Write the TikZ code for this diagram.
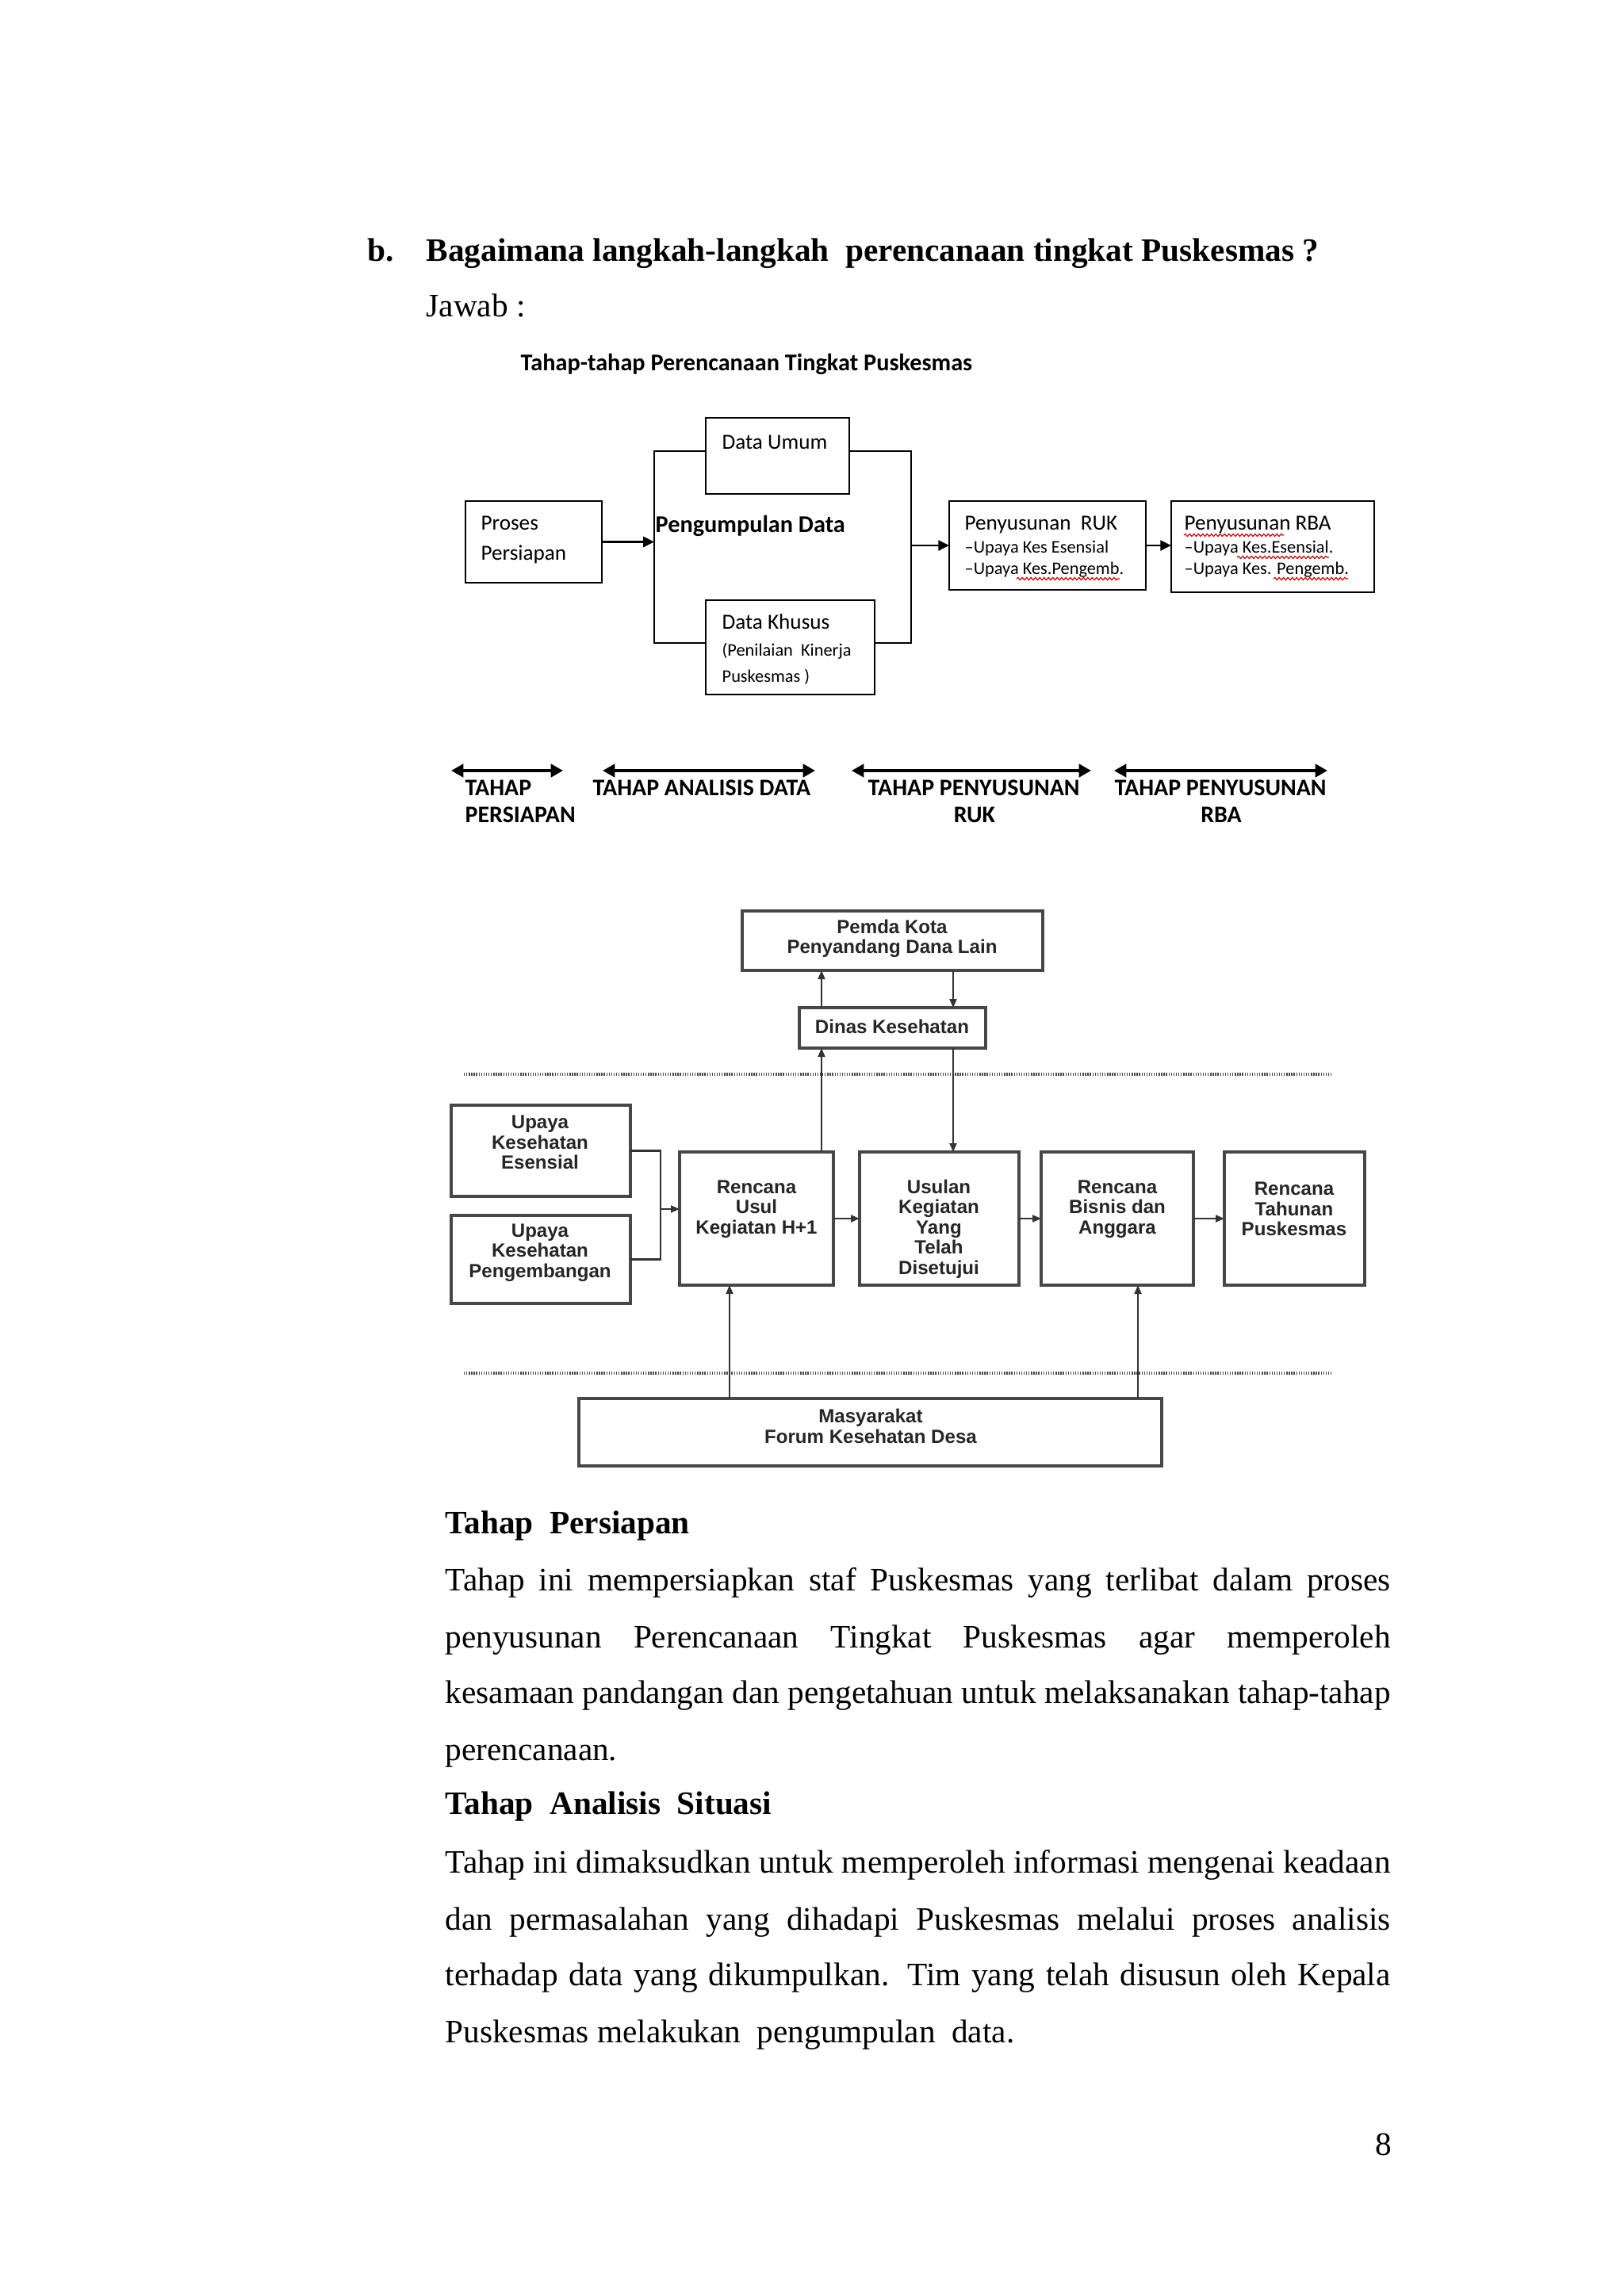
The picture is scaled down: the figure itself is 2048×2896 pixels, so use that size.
\documentclass[tikz,border=0pt]{standalone}
\usepackage{fontspec}
\setmainfont{Liberation Serif}
\newfontfamily\calfont{Carlito}
\newfontfamily\arfont{Liberation Sans}
\usetikzlibrary{arrows.meta,decorations.pathmorphing}
\def\pu{0.2907pt}
\newcommand\mkbox[6]{\node[#1, minimum width={(#5-#3)*\pu}, minimum height={(#6-#4)*\pu}] (#2) at ({(#3+#5)/2},{(#4+#6)/2}) {};}
\tikzset{
  body/.style={font=\fontsize{12}{14}\selectfont, inner sep=0pt, anchor=base west},
  bodyb/.style={font=\fontsize{12}{14}\selectfont\bfseries, inner sep=0pt, anchor=base west},
  dtxt/.style={font=\calfont\fontsize{7.9}{9}\selectfont, inner sep=0pt, anchor=base west},
  dsub/.style={font=\calfont\fontsize{6.5}{8}\selectfont, inner sep=0pt, anchor=base west},
  boxa/.style={draw=black, line width=0.85pt, inner sep=0pt, outer sep=0pt},
  lna/.style={draw=black, line width=0.7pt},
  arra/.style={lna, -{Triangle[length=4pt,width=3.8pt]}},
  stg/.style={draw=black, line width=1pt, {Triangle[length=4.5pt,width=4.8pt]}-{Triangle[length=4.5pt,width=4.8pt]}},
  stgtxt/.style={font=\calfont\bfseries\fontsize{8.7}{10}\selectfont, inner sep=0pt, anchor=base west},
  boxb/.style={draw=black!72, line width=0.9pt, inner sep=0pt, outer sep=0pt},
  btxt/.style={font=\arfont\bfseries\fontsize{7}{7.4}\selectfont, align=center, inner sep=0pt, text=black!85},
  arrb/.style={draw=black!80, line width=0.6pt, -{Triangle[length=3.2pt,width=2.6pt]}},
  lnb/.style={draw=black!80, line width=0.6pt},
  dotl/.style={draw=black!70, line width=1.3pt, dash pattern=on 0.4pt off 0.5pt},
  wavy/.style={draw=red!85!black, line width=0.35pt, decorate, decoration={snake, amplitude=0.45pt, segment length=1.6pt}}
}
\begin{document}
\begin{tikzpicture}[x=0.2907pt,y=-0.2907pt]
\useasboundingbox[fill=white] (0,0) rectangle (2048,2896);

% ---------- heading ----------
\node[bodyb] (hb) at (463,329) {b.};
\node[bodyb] (hq) at (537,329) {Bagaimana langkah-langkah\ \ perencanaan tingkat Puskesmas ?};
\node[body] (jw) at (537,399) {Jawab :};
\node[font=\calfont\bfseries\fontsize{8.8}{10}\selectfont, inner sep=0pt, anchor=base west] (ttl) at (656,467) {Tahap-tahap Perencanaan Tingkat Puskesmas};

% ---------- diagram 1 ----------
\mkbox{boxa}{proses}{587}{632}{759}{735}
\node[dtxt] (tpr1) at (606,668) {Proses};
\node[dtxt] (tpr2) at (606,706) {Persiapan};

\mkbox{boxa}{umum}{890}{527}{1071}{623}
\node[dtxt] (tum) at (910,566) {Data Umum};

\mkbox{boxa}{khusus}{890}{757}{1103}{876}
\node[dtxt] (tkh1) at (910,793) {Data Khusus};
\node[dsub] (tkh2) at (910,827) {(Penilaian\ \ Kinerja};
\node[dsub] (tkh3) at (910,860) {Puskesmas )};

\node[font=\calfont\bfseries\fontsize{8.8}{10}\selectfont, inner sep=0pt, anchor=base west] (pgd) at (826,671) {Pengumpulan Data};

\coordinate (bTL) at (825,569);
\coordinate (bBL) at (825,811);
\coordinate (bTR) at (1149,569);
\coordinate (bBR) at (1149,811);
\draw[lna] (umum.west |- bTL) -- (bTL) -- (bBL) -- (khusus.west |- bBL);
\draw[lna] (umum.east |- bTR) -- (bTR) -- (bBR) -- (khusus.east |- bBR);

\mkbox{boxa}{ruk}{1197}{632}{1445}{744}
\node[dtxt] (tr1) at (1216,668) {Penyusunan\ \ RUK};
\node[dsub] (tr2) at (1216,697) {–Upaya Kes Esensial};
\node[dsub] (tr3) at (1216,724) {–Upaya Kes.Pengemb.};

\mkbox{boxa}{rba}{1477}{632}{1733}{747}
\node[dtxt] (tb1) at (1493,668) {Penyusunan RBA};
\node[dsub] (tb2) at (1493,697) {–Upaya Kes.Esensial.};
\node[dsub] (tb3) at (1493,724) {–Upaya Kes. Pengemb.};

\draw[arra] (proses.east) -- (proses.east -| bTL);
\draw[arra] (ruk.west -| bTR) -- (ruk.west);
\draw[arra] (ruk.east) -- (ruk.east -| rba.west);

% spell-check underlines
\draw[wavy] (1493,675) -- (1619,675);
\draw[wavy] (1560,703) -- (1676,703);
\draw[wavy] (1606,730) -- (1700,730);
\draw[wavy] (1282,730) -- (1412,730);

% ---------- stage arrows ----------
\coordinate (s1a) at (569,972); \coordinate (s1b) at (710,972);
\coordinate (s2a) at (760,972); \coordinate (s2b) at (1028,972);
\coordinate (s3a) at (1074,972); \coordinate (s3b) at (1376,972);
\coordinate (s4a) at (1405,972); \coordinate (s4b) at (1674,972);
\draw[stg] (s1a) -- (s1b);
\draw[stg] (s2a) -- (s2b);
\draw[stg] (s3a) -- (s3b);
\draw[stg] (s4a) -- (s4b);
\node[stgtxt] (l1a) at (586,1003) {TAHAP};
\node[stgtxt] (l1b) at (586,1037) {PERSIAPAN};
\node[stgtxt] (l2a) at (747,1003) {TAHAP ANALISIS DATA};
\node[stgtxt] (l3a) at (1094,1003) {TAHAP PENYUSUNAN};
\node[stgtxt, anchor=base] (l3b) at (1229,1037) {RUK};
\node[stgtxt] (l4a) at (1405,1003) {TAHAP PENYUSUNAN};
\node[stgtxt, anchor=base] (l4b) at (1540,1037) {RBA};

% ---------- diagram 2 ----------
\mkbox{boxb}{pemda}{936}{1149}{1315}{1224}
\node[btxt] (tpm) at (1125,1184) {Pemda Kota\\Penyandang Dana Lain};
\mkbox{boxb}{dinas}{1008}{1271}{1243}{1322}
\node[btxt] (tdn) at (1125,1295) {Dinas Kesehatan};

\draw[dotl] (585,1355) -- (1680,1355);
\draw[dotl] (585,1732) -- (1680,1732);

\mkbox{boxb}{esen}{569}{1394}{795}{1509}
\node[btxt] (tes) at (681,1441) {Upaya\\Kesehatan\\Esensial};
\mkbox{boxb}{peng}{569}{1533}{795}{1644}
\node[btxt] (tpg) at (681,1580) {Upaya\\Kesehatan\\Pengembangan};

\mkbox{boxb}{rusul}{857}{1453}{1051}{1621}
\node[btxt] (tru) at (954,1525) {Rencana\\Usul\\Kegiatan H+1};
\mkbox{boxb}{usulan}{1084}{1453}{1285}{1621}
\node[btxt] (tus) at (1184,1550) {Usulan\\Kegiatan\\Yang\\Telah\\Disetujui};
\mkbox{boxb}{bisnis}{1313}{1453}{1505}{1621}
\node[btxt] (tbs) at (1409,1525) {Rencana\\Bisnis dan\\Anggara};
\mkbox{boxb}{tahunan}{1544}{1453}{1721}{1621}
\node[btxt] (tth) at (1632,1525) {Rencana\\Tahunan\\Puskesmas};

\mkbox{boxb}{masy}{730}{1764}{1465}{1849}
\node[btxt] (tms) at (1098,1799) {Masyarakat\\Forum Kesehatan Desa};

\coordinate (ux) at (1036,0);
\coordinate (dx) at (1202,0);
\coordinate (bx) at (833,1525);
\coordinate (m1) at (920,0);
\coordinate (m2) at (1435,0);

\draw[arrb] (dinas.north -| ux) -- (pemda.south -| ux);
\draw[arrb] (pemda.south -| dx) -- (dinas.north -| dx);
\draw[arrb] (rusul.north -| ux) -- (dinas.south -| ux);
\draw[arrb] (dinas.south -| dx) -- (usulan.north -| dx);

\draw[lnb] (esen.east) -- (esen.east -| bx) -- (peng.east -| bx) -- (peng.east);
\draw[arrb] (bx) -- (bx -| rusul.west);
\draw[arrb] (rusul.east) -- (usulan.west);
\draw[arrb] (usulan.east) -- (bisnis.west);
\draw[arrb] (bisnis.east) -- (tahunan.west);

\draw[arrb] (masy.north -| m1) -- (rusul.south -| m1);
\draw[arrb] (masy.north -| m2) -- (bisnis.south -| m2);

% ---------- body text ----------
\node[bodyb] (h1) at (561,1934) {Tahap\ \ Persiapan};
\node[body] (a1) at (561,2006) {\makebox[346.5pt][s]{Tahap ini mempersiapkan staf Puskesmas yang terlibat dalam proses}};
\node[body] (a2) at (561,2078) {\makebox[346.5pt][s]{penyusunan Perencanaan Tingkat Puskesmas agar memperoleh}};
\node[body] (a3) at (561,2148) {\makebox[346.5pt][s]{kesamaan pandangan dan pengetahuan untuk melaksanakan tahap-tahap}};
\node[body] (a4) at (561,2220) {perencanaan.};
\node[bodyb] (h2) at (561,2288) {Tahap\ \ Analisis\ \ Situasi};
\node[body] (b1) at (561,2362) {\makebox[346.5pt][s]{Tahap ini dimaksudkan untuk memperoleh informasi mengenai keadaan}};
\node[body] (b2) at (561,2434) {\makebox[346.5pt][s]{dan permasalahan yang dihadapi Puskesmas melalui proses analisis}};
\node[body] (b3) at (561,2504) {\makebox[346.5pt][s]{terhadap data yang dikumpulkan. Tim yang telah disusun oleh Kepala}};
\node[body] (b4) at (561,2576) {Puskesmas melakukan\ \ pengumpulan\ \ data.};
\node[body, anchor=base east] (pg) at (1756,2718) {8};
\end{tikzpicture}
\end{document}
